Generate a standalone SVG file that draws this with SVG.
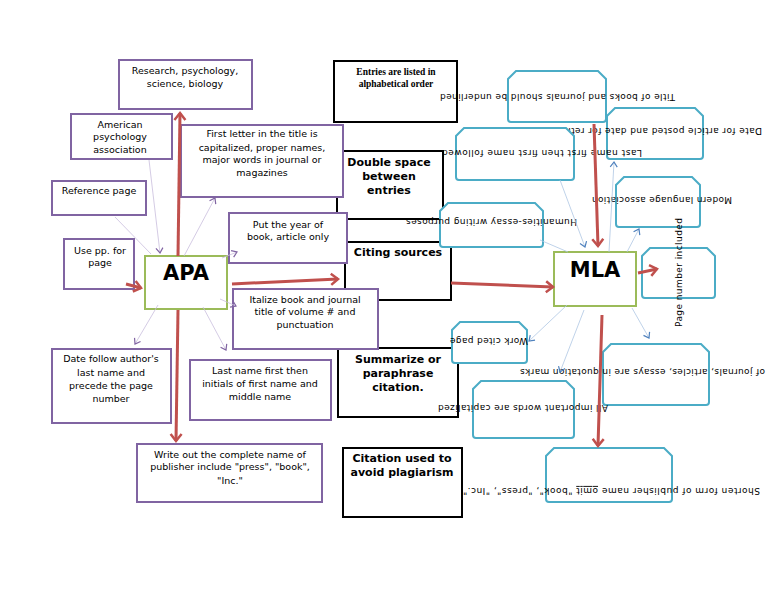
<svg xmlns="http://www.w3.org/2000/svg" width="768" height="594" viewBox="0 0 768 594">
<style>
.pb{fill:#fff;stroke:#8064A2;stroke-width:2}
.bb{fill:#fff;stroke:#000;stroke-width:2}
.gb{fill:#fff;stroke:#9BBB59;stroke-width:2}
.cb{fill:#fff;stroke:#4BACC6;stroke-width:2}
.t{font-family:"DejaVu Sans",sans-serif;font-size:9.5px;fill:#000;text-anchor:middle}
.tb{font-family:"DejaVu Sans",sans-serif;font-weight:bold;font-size:11px;fill:#000;text-anchor:middle}
.big{font-family:"DejaVu Sans",sans-serif;font-weight:bold;font-size:21px;fill:#000;text-anchor:middle}
.ser{font-family:"Liberation Serif",serif;font-weight:bold;font-size:9.5px;fill:#000;text-anchor:middle}
.u{font-family:"DejaVu Sans",sans-serif;font-size:9px;fill:#000}
.red{fill:none;stroke:#C0504D;stroke-width:3}
.tp{fill:none;stroke:#C9BEDD;stroke-width:0.8}
.tbl{fill:none;stroke:#AFC6E3;stroke-width:0.8}
</style>
<defs>
<marker id="ra" markerUnits="userSpaceOnUse" markerWidth="14" markerHeight="14" refX="10" refY="7" orient="auto" overflow="visible"><path d="M3,1.5 L10,7 L3,12.5" fill="none" stroke="#C0504D" stroke-width="2.5"/></marker>
<marker id="pa" markerUnits="userSpaceOnUse" markerWidth="8" markerHeight="8" refX="6" refY="4" orient="auto" overflow="visible"><path d="M1,0.5 L6,4 L1,7.5" fill="none" stroke="#8064A2" stroke-width="1.2"/></marker>
<marker id="ba" markerUnits="userSpaceOnUse" markerWidth="8" markerHeight="8" refX="6" refY="4" orient="auto" overflow="visible"><path d="M1,0.5 L6,4 L1,7.5" fill="none" stroke="#4F81BD" stroke-width="1.2"/></marker>
</defs>

<g id="n-dateforarticle"><path class="cb" d="M615,108 L695,108 L703,116 L703,156 Q703,159 700,159 L610,159 Q607,159 607,156 L607,116 Z"/><text class="u" transform="rotate(180 762 131)" x="762" y="134.2" textLength="195">Date for article posted and date for retr</text></g>
<g id="n-lastnamefirst"><path class="cb" d="M464,128 L566,128 L574,136 L574,177 Q574,180 571,180 L459,180 Q456,180 456,177 L456,136 Z"/><text class="u" transform="rotate(180 642 153)" x="642" y="156.2" textLength="200">Last name first then first name followed</text></g>

<g id="n-entries"><rect class="bb" x="334" y="61" width="123" height="61"/><text class="ser" x="396" y="74.5">Entries are listed in</text><text class="ser" x="396" y="86.5">alphabetical order</text></g>
<g id="n-doublespace"><rect class="bb" x="337" y="151" width="106" height="68"/><text class="tb" x="389" y="166">Double space</text><text class="tb" x="389" y="180">between</text><text class="tb" x="389" y="194">entries</text></g>
<g id="n-citing"><rect class="bb" x="345" y="242" width="106" height="58"/><text class="tb" x="398" y="256">Citing sources</text></g>
<g id="n-summarize"><rect class="bb" x="338" y="348" width="120" height="69"/><text class="tb" x="398" y="363">Summarize or</text><text class="tb" x="398" y="377">paraphrase</text><text class="tb" x="398" y="391">citation.</text></g>
<g id="n-citation"><rect class="bb" x="343" y="448" width="119" height="69"/><text class="tb" x="402" y="462">Citation used to</text><text class="tb" x="402" y="476">avoid plagiarism</text></g>

<g id="n-research"><rect class="pb" x="119" y="60" width="133" height="49"/><text class="t" x="185" y="74">Research, psychology,</text><text class="t" x="185" y="87">science, biology</text></g>
<g id="n-american"><rect class="pb" x="71" y="114" width="101" height="45"/><text class="t" x="120" y="127.5">American</text><text class="t" x="120" y="140">psychology</text><text class="t" x="120" y="152.5">association</text></g>
<g id="n-firstletter"><rect class="pb" x="181" y="125" width="162" height="72"/><text class="t" x="262" y="137">First letter in the title is</text><text class="t" x="262" y="150.5">capitalized, proper names,</text><text class="t" x="262" y="163">major words in journal or</text><text class="t" x="262" y="176">magazines</text></g>
<g id="n-reference"><rect class="pb" x="52" y="181" width="94" height="34"/><text class="t" x="99" y="194">Reference page</text></g>
<g id="n-putyear"><rect class="pb" x="229" y="213" width="118" height="50"/><text class="t" x="288" y="227.5">Put the year of</text><text class="t" x="288" y="239.5">book, article only</text></g>
<g id="n-usepp"><rect class="pb" x="64" y="239" width="70" height="50"/><text class="t" x="100" y="253.5">Use pp. for</text><text class="t" x="100" y="265.5">page</text></g>
<g id="n-apa"><rect class="gb" x="145" y="256" width="82" height="53"/><text class="big" x="186" y="280">APA</text></g>
<g id="n-italize"><rect class="pb" x="233" y="289" width="145" height="60"/><text class="t" x="305" y="302.5">Italize book and journal</text><text class="t" x="305" y="314.5">title of volume # and</text><text class="t" x="305" y="327.5">punctuation</text></g>
<g id="n-datefollow"><rect class="pb" x="52" y="349" width="119" height="74"/><text class="t" x="111" y="361.5">Date follow author's</text><text class="t" x="111" y="375.5">last name and</text><text class="t" x="111" y="389">precede the page</text><text class="t" x="111" y="401.5">number</text></g>
<g id="n-lastname"><rect class="pb" x="190" y="360" width="141" height="60"/><text class="t" x="260" y="373.5">Last name first then</text><text class="t" x="260" y="386.5">initials of first name and</text><text class="t" x="260" y="399.5">middle name</text></g>
<g id="n-writeout"><rect class="pb" x="137" y="444" width="185" height="58"/><text class="t" x="230" y="457.5">Write out the complete name of</text><text class="t" x="230" y="470">publisher include "press", "book",</text><text class="t" x="230" y="483.5">"Inc."</text></g>

<g id="n-titlebooks"><path class="cb" d="M516,71 L598,71 L606,79 L606,119 Q606,122 603,122 L511,122 Q508,122 508,119 L508,79 Z"/><text class="u" text-anchor="middle" transform="rotate(180 557.5 97)" x="557.5" y="100.2" textLength="235">Title of books and journals should be underlined</text></g>
<g id="n-modern"><path class="cb" d="M624,177 L692,177 L700,185 L700,224 Q700,227 697,227 L619,227 Q616,227 616,224 L616,185 Z"/><text class="u" text-anchor="middle" transform="rotate(180 662 200)" x="662" y="203.2" textLength="140">Modern language association</text></g>
<g id="n-humanities"><path class="cb" d="M448,203 L535,203 L543,211 L543,244 Q543,247 540,247 L443,247 Q440,247 440,244 L440,211 Z"/><text class="u" text-anchor="middle" transform="rotate(180 491.5 222)" x="491.5" y="225.2" textLength="171">Humanities-essay writing purposes</text></g>
<g id="n-pagenumber"><path class="cb" d="M650,248 L707,248 L715,256 L715,295 Q715,298 712,298 L645,298 Q642,298 642,295 L642,256 Z"/><text class="u" text-anchor="middle" font-size="9.5" transform="rotate(-90 679 272.5)" x="679" y="275.8" textLength="109">Page number included</text></g>
<g id="n-mla"><rect class="gb" x="554" y="252" width="82" height="54"/><text class="big" x="595" y="277">MLA</text></g>
<g id="n-workcited"><path class="cb" d="M460,322 L519,322 L527,330 L527,360 Q527,363 524,363 L455,363 Q452,363 452,360 L452,330 Z"/><text class="u" text-anchor="middle" transform="rotate(180 489 341)" x="489" y="344.2" textLength="78">Work cited page</text></g>
<g id="n-journals"><path class="cb" d="M611,344 L701,344 L709,352 L709,402 Q709,405 706,405 L606,405 Q603,405 603,402 L603,352 Z"/><text class="u" text-anchor="end" transform="rotate(180 520 372)" x="520" y="375.2" textLength="245">of journals, articles, essays are in quotation marks</text></g>
<g id="n-important"><path class="cb" d="M481,381 L566,381 L574,389 L574,435 Q574,438 571,438 L476,438 Q473,438 473,435 L473,389 Z"/><text class="u" text-anchor="middle" transform="rotate(180 523 408)" x="523" y="411.2" textLength="170">All important words are capitalized</text></g>
<g id="n-shorten"><path class="cb" d="M554,448 L664,448 L672,456 L672,499 Q672,502 669,502 L549,502 Q546,502 546,499 L546,456 Z"/><text class="u" text-anchor="middle" transform="rotate(180 611.5 491)" x="611.5" y="494.2" textLength="297">Shorten form of publisher name <tspan text-decoration="underline">omit</tspan> "book", "press", "Inc."</text></g>

<g id="connectors">
<path class="tp" d="M149,160 L160,253" marker-end="url(#pa)"/>
<path class="tp" d="M115,217 L151,254"/>
<path class="tp" d="M184,256 L215,198" marker-end="url(#pa)"/>
<path class="tp" d="M222,258 L237,252" marker-end="url(#pa)"/>
<path class="tp" d="M220,299 L236,306" marker-end="url(#pa)"/>
<path class="tp" d="M158,305 L135,344" marker-end="url(#pa)"/>
<path class="tp" d="M203,307 L226,350" marker-end="url(#pa)"/>
<path class="tbl" d="M560,180 L585,247" marker-end="url(#ba)"/>
<path class="tbl" d="M540,240 L568,252"/>
<path class="tbl" d="M609,252 L614,162" marker-end="url(#ba)"/>
<path class="tbl" d="M627,252 L639,229" marker-end="url(#ba)"/>
<path class="tbl" d="M632,308 L649,338" marker-end="url(#ba)"/>
<path class="tbl" d="M567,305 L529,341" marker-end="url(#ba)"/>
<path class="tbl" d="M584,310 L560,372" marker-end="url(#ba)"/>
<path class="red" d="M178,256 L180,113" marker-end="url(#ra)"/>
<path class="red" d="M178,310 L176,441" marker-end="url(#ra)"/>
<path class="red" d="M232,284 L338,279" marker-end="url(#ra)"/>
<path class="red" d="M126,284 L141,288" marker-end="url(#ra)"/>
<path class="red" d="M451,283 L553,287" marker-end="url(#ra)"/>
<path class="red" d="M594,124 L598,246" marker-end="url(#ra)"/>
<path class="red" d="M602,315 L598,446" marker-end="url(#ra)"/>
<path class="red" d="M638,273 L657,269" marker-end="url(#ra)"/>
</g>
</svg>
